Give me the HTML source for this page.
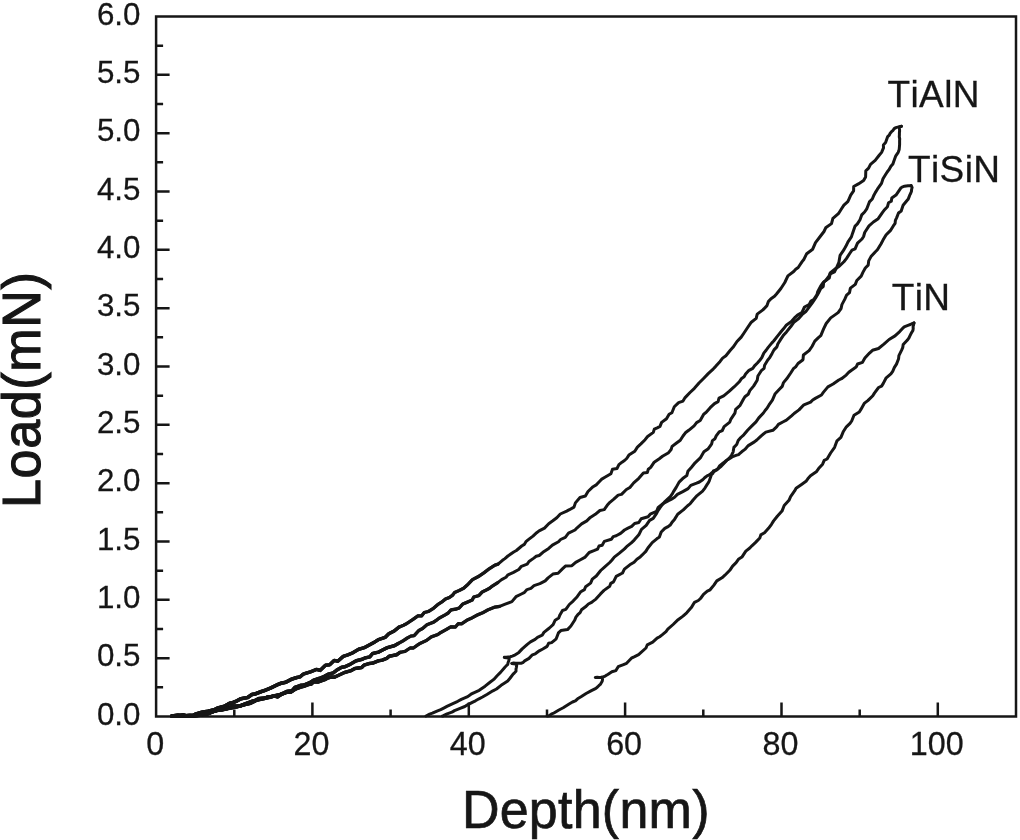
<!DOCTYPE html>
<html lang="en"><head><meta charset="utf-8"><title>Load-depth curves</title>
<style>
html,body{margin:0;padding:0;background:#fff;}
body{width:1020px;height:840px;overflow:hidden;font-family:"Liberation Sans",sans-serif;}
svg{display:block;}
</style></head><body>
<svg width="1020" height="840" viewBox="0 0 1020 840">
<rect width="1020" height="840" fill="#fff"/>
<g fill="none" stroke="#161616" stroke-width="2.5" stroke-linecap="butt">
<rect x="156.1" y="16.5" width="859.9" height="700.0"/>
<path d="M156.1 687.3 h7 M156.1 658.2 h13.5 M156.1 629.0 h7 M156.1 599.8 h13.5 M156.1 570.7 h7 M156.1 541.5 h13.5 M156.1 512.3 h7 M156.1 483.2 h13.5 M156.1 454.0 h7 M156.1 424.8 h13.5 M156.1 395.7 h7 M156.1 366.5 h13.5 M156.1 337.3 h7 M156.1 308.2 h13.5 M156.1 279.0 h7 M156.1 249.8 h13.5 M156.1 220.7 h7 M156.1 191.5 h13.5 M156.1 162.3 h7 M156.1 133.2 h13.5 M156.1 104.0 h7 M156.1 74.8 h13.5 M156.1 45.7 h7 M234.3 716.5 v-7 M312.4 716.5 v-14 M390.6 716.5 v-7 M468.8 716.5 v-14 M547.0 716.5 v-7 M625.1 716.5 v-14 M703.3 716.5 v-7 M781.5 716.5 v-14 M859.7 716.5 v-7 M937.8 716.5 v-14"/>
</g>
<g fill="none" stroke="#161616" stroke-width="3.0" stroke-linejoin="round" stroke-linecap="round">
<path d="M172.0 716.0 L177.0 716.0 L180.0 715.6 L183.0 715.9 L190.0 715.4 L193.0 715.5 L195.6 714.1 L201.2 712.4 L208.0 711.2 L214.1 709.8 L217.8 708.0 L224.4 706.3 L229.7 703.3 L232.6 702.7 L236.3 701.2 L240.7 698.8 L247.7 697.5 L251.9 694.5 L255.0 694.0 L261.5 691.5 L264.4 690.6 L270.9 687.9 L277.2 684.8 L280.9 683.3 L285.9 682.2 L291.3 679.3 L296.1 677.7 L300.1 676.8 L303.3 674.1 L306.2 673.2 L311.0 671.7 L316.5 669.4 L320.1 670.4 L325.5 665.2 L329.7 664.8 L334.2 660.4 L337.8 661.2 L343.2 656.4 L348.0 654.8 L352.5 652.9 L358.6 649.3 L364.4 647.6 L368.8 645.2 L374.1 642.4 L378.3 639.7 L385.1 637.4 L388.8 633.7 L394.2 631.0 L398.9 627.2 L403.6 625.2 L406.3 623.8 L409.7 621.6 L413.1 619.3 L418.0 615.8 L421.6 615.9 L424.3 612.5 L428.4 611.5 L433.5 608.3 L438.1 604.3 L442.4 601.6 L445.5 599.0 L449.4 597.5 L452.6 595.2 L454.5 592.6 L459.2 590.5 L463.7 588.2 L467.5 584.8 L472.5 579.6 L478.8 576.3 L484.5 572.4 L489.2 568.8 L495.0 565.1 L498.0 564.2 L502.5 560.3 L504.9 558.6 L507.9 556.0 L513.7 552.0 L516.4 550.5 L521.7 546.0 L524.3 544.4 L525.9 541.7 L529.0 539.2 L533.0 536.1 L536.7 532.7 L539.1 530.9 L544.5 528.1 L548.7 523.7 L552.8 520.8 L556.8 517.8 L560.3 514.0 L566.7 511.1 L569.4 509.7 L574.0 507.1 L575.4 502.9 L580.0 497.5 L585.4 496.0 L588.0 491.5 L593.1 486.7 L596.6 484.6 L601.4 479.4 L604.9 477.3 L610.9 473.7 L612.5 469.3 L617.0 468.5 L618.9 464.7 L622.0 462.2 L624.5 460.5 L626.7 458.5 L628.9 455.1 L634.8 451.2 L637.4 447.1 L640.9 443.9 L645.1 439.7 L647.6 436.5 L653.3 432.4 L654.3 429.2 L657.2 427.9 L660.0 426.4 L661.6 422.4 L666.5 418.7 L669.1 414.3 L671.9 412.7 L674.3 406.8 L678.6 402.6 L683.0 401.1 L685.1 397.6 L690.0 392.5 L694.4 388.3 L699.0 383.0 L703.3 378.7 L708.2 373.6 L713.4 368.8 L715.5 366.6 L720.1 361.4 L722.6 358.1 L725.9 355.7 L730.3 350.3 L733.0 347.3 L737.0 341.5 L741.2 337.1 L744.0 333.0 L747.3 328.0 L751.3 322.2 L756.2 318.4 L757.2 314.1 L762.9 309.9 L767.0 305.6 L768.4 301.6 L771.0 298.7 L774.5 296.3 L776.5 294.0 L780.9 288.5 L784.8 282.5 L787.9 275.9 L793.7 271.5 L795.7 269.3 L798.2 267.5 L802.1 261.6 L804.0 259.2 L806.7 253.7 L812.7 249.2 L815.5 242.6 L819.8 237.0 L824.0 231.5 L825.7 227.8 L831.5 223.6 L832.9 218.3 L838.4 213.7 L841.7 208.5 L843.9 205.1 L847.8 201.6 L849.1 198.8 L850.7 195.2 L853.6 190.9 L853.7 186.5 L858.4 183.9 L863.6 180.6 L865.6 177.0 L865.8 170.8 L868.6 168.2 L870.5 164.3 L875.2 160.4 L879.0 155.5 L881.6 152.4 L883.5 147.9 L883.4 144.9 L885.6 142.5 L887.7 136.6 L889.3 135.1 L890.2 133.2 L891.5 131.7 L893.1 130.3 L894.2 128.6 L895.9 127.6 L897.7 127.1 L899.5 126.7 L901.4 126.3"/>
<path d="M901.4 126.3 L899.5 127.0 L899.5 129.0 L899.6 131.0 L899.4 132.9 L899.4 134.9 L899.3 136.9 L899.7 138.9 L899.6 140.8 L899.6 142.7 L899.6 144.6 L899.2 149.5 L898.2 152.3 L895.8 155.8 L893.9 161.1 L892.9 163.9 L890.9 166.2 L889.0 169.7 L887.2 172.0 L885.6 174.5 L883.0 178.7 L881.5 183.4 L877.4 189.2 L875.3 192.6 L873.9 195.2 L872.3 199.0 L869.4 201.9 L866.9 208.6 L864.6 212.0 L861.7 214.9 L860.0 219.7 L857.4 223.9 L855.1 226.1 L852.7 232.9 L851.4 236.9 L848.0 241.8 L846.8 244.5 L844.0 249.6 L840.1 255.3 L838.9 262.3 L836.8 267.1 L834.5 271.9 L830.2 273.9 L829.2 278.1 L823.7 282.0 L823.2 286.5 L820.7 288.6 L818.5 293.0 L815.6 298.0 L812.3 302.9 L808.2 308.4 L805.8 311.6 L802.0 314.7 L798.7 318.5 L793.8 322.4 L790.8 326.5 L786.5 331.9 L783.2 335.6 L781.0 338.9 L777.8 344.0 L776.9 346.9 L774.0 349.9 L772.1 353.4 L769.5 357.9 L767.6 360.2 L764.6 365.2 L764.1 368.3 L761.6 370.3 L757.9 376.0 L757.2 380.2 L753.6 386.1 L749.8 390.6 L748.2 394.3 L744.9 396.7 L743.4 399.2 L740.1 405.3 L735.7 409.3 L734.9 413.2 L730.9 419.1 L729.8 422.1 L724.1 426.6 L722.3 430.5 L719.2 431.8 L716.2 435.9 L715.0 438.7 L712.4 440.6 L711.7 443.8 L708.3 448.7 L703.9 451.8 L700.3 457.9 L695.1 462.8 L691.3 467.5 L687.9 471.3 L686.8 475.5 L683.4 477.9 L679.1 482.1 L676.2 487.4 L673.5 491.6 L672.1 494.2 L670.3 496.6 L665.2 501.3 L662.0 505.0 L658.0 510.6 L656.6 513.4 L653.2 518.4 L649.6 520.4 L646.2 525.4 L641.5 529.3 L638.8 534.8 L634.2 540.1 L631.3 542.9 L626.6 546.7 L624.5 548.9 L619.1 553.4 L614.3 557.1 L611.8 560.2 L609.7 562.5 L604.5 567.1 L600.7 570.5 L596.3 576.0 L592.3 579.1 L590.6 583.1 L585.6 586.7 L584.4 589.6 L580.8 591.7 L577.2 596.7 L573.1 601.1 L569.3 604.5 L565.8 609.4 L562.5 610.5 L559.9 614.9 L558.7 618.0 L555.2 620.2 L553.1 624.7 L549.4 628.0 L543.9 632.4 L542.2 635.2 L537.5 637.3 L535.1 639.4 L530.5 641.9 L527.3 644.4 L522.2 648.9 L518.9 652.4 L514.1 655.4 L512.3 656.1 L510.3 656.7 L508.3 657.0 L506.3 657.3 L504.3 657.2 L504.3 657.5 L506.4 657.7 L508.5 657.9 L509.2 658.9 L508.8 660.8 L508.1 662.5 L507.7 664.4 L506.3 665.8 L504.9 667.2 L500.5 672.4 L497.1 675.8 L493.8 679.4 L490.0 682.3 L485.1 686.2 L479.2 690.3 L473.7 692.8 L471.0 694.2 L467.7 696.6 L461.3 699.4 L457.8 701.3 L452.3 703.8 L446.9 706.4 L444.2 707.8 L440.7 709.6 L437.0 711.1 L432.4 713.2 L429.6 714.2 L426.0 716.0"/>
<path d="M172.0 716.0 L178.0 715.2 L184.0 716.0 L189.0 715.7 L194.0 715.6 L201.0 714.8 L207.9 713.3 L214.6 711.0 L218.4 710.1 L221.4 710.0 L227.1 708.6 L232.8 706.2 L235.9 706.2 L240.1 706.0 L245.7 703.7 L252.2 701.3 L258.8 699.6 L264.7 698.4 L267.4 697.1 L271.5 696.5 L274.5 695.9 L280.4 694.5 L283.2 693.3 L286.9 691.5 L292.0 690.9 L295.0 687.5 L300.6 685.3 L303.8 685.1 L310.2 682.4 L313.6 680.2 L320.3 678.0 L323.1 677.0 L328.4 674.1 L333.3 672.9 L336.5 670.3 L341.7 667.3 L344.7 666.8 L350.2 664.3 L352.7 662.8 L356.2 660.8 L362.1 659.3 L364.8 658.0 L369.8 656.9 L372.6 653.5 L378.5 652.1 L383.0 649.8 L387.4 647.6 L394.3 645.7 L397.8 643.7 L402.3 641.3 L407.3 638.0 L410.8 636.1 L414.1 635.7 L418.9 630.4 L422.5 628.6 L427.0 624.7 L433.7 622.1 L437.0 619.8 L439.4 618.0 L445.6 614.6 L448.2 613.0 L451.0 609.9 L456.3 609.0 L459.2 608.0 L462.7 604.1 L466.5 602.5 L472.1 600.1 L473.8 597.0 L478.8 595.6 L482.3 591.9 L485.1 590.6 L489.5 588.3 L491.8 586.4 L497.7 582.7 L501.6 579.6 L506.0 577.2 L508.0 574.8 L513.5 572.3 L518.8 569.5 L521.4 566.3 L527.2 564.2 L529.0 561.5 L533.8 558.1 L536.2 556.3 L539.2 555.5 L542.9 552.3 L548.7 548.4 L552.4 545.1 L558.5 541.7 L560.6 539.5 L565.3 537.3 L568.5 533.2 L575.0 530.0 L577.1 527.8 L581.6 523.9 L586.8 520.9 L590.3 517.4 L595.3 514.3 L599.9 510.5 L604.2 509.6 L607.2 505.3 L609.9 502.3 L613.8 499.2 L618.2 495.1 L621.5 494.4 L626.4 489.5 L629.9 487.5 L633.7 482.9 L638.8 478.3 L643.4 473.0 L647.3 472.6 L648.3 469.3 L650.7 467.4 L654.2 462.2 L659.3 458.7 L662.5 456.3 L668.6 452.7 L671.1 449.5 L672.1 446.4 L676.2 443.3 L680.3 440.3 L683.0 436.0 L685.4 432.8 L688.7 430.3 L694.1 425.8 L696.6 422.6 L700.2 420.5 L703.7 414.2 L706.2 412.3 L710.2 407.7 L714.5 403.6 L718.1 401.6 L719.0 398.1 L723.7 395.8 L729.1 391.4 L734.3 386.7 L739.3 381.8 L741.6 378.4 L744.1 376.7 L745.6 374.0 L749.0 370.3 L752.8 368.3 L754.5 365.9 L757.4 363.0 L760.0 360.0 L761.8 357.7 L763.8 353.1 L766.3 350.0 L768.0 347.6 L771.7 343.1 L773.7 341.0 L777.3 336.4 L781.6 331.0 L783.5 328.8 L786.5 324.9 L791.4 321.6 L795.3 317.1 L797.5 315.1 L801.9 312.6 L804.5 307.0 L809.1 304.7 L811.0 301.0 L813.7 299.5 L817.0 294.6 L817.7 291.6 L820.5 286.4 L822.7 283.2 L825.7 280.5 L829.1 276.0 L830.2 272.9 L835.5 268.6 L839.0 266.5 L843.9 261.7 L846.4 258.6 L849.7 253.5 L852.0 250.2 L855.1 248.8 L857.5 243.1 L862.0 239.0 L863.6 236.5 L864.7 232.5 L866.8 229.2 L869.0 225.9 L873.4 222.0 L878.2 218.7 L882.2 212.9 L884.6 209.7 L887.4 206.8 L888.5 202.8 L891.3 201.3 L891.8 198.0 L896.0 195.1 L899.9 189.4 L901.1 187.7 L902.7 186.8 L904.5 186.2 L906.2 185.9 L908.0 185.7 L910.1 185.8 L911.1 185.6"/>
<path d="M911.1 185.6 L912.1 187.5 L911.6 189.5 L911.4 191.5 L910.6 193.5 L909.6 195.4 L908.9 197.4 L908.1 199.3 L906.8 200.8 L903.1 205.3 L901.2 211.0 L898.5 213.0 L896.7 217.6 L895.4 220.3 L895.1 223.4 L893.3 225.9 L890.8 230.1 L886.0 235.0 L883.0 240.1 L881.1 243.7 L877.4 249.8 L875.2 252.0 L871.0 256.6 L868.7 260.9 L868.2 265.2 L865.3 268.0 L862.9 272.4 L861.2 276.1 L856.8 280.5 L855.3 284.4 L850.4 288.1 L849.5 292.6 L846.6 295.1 L844.7 299.4 L841.9 304.6 L841.1 308.5 L838.1 312.6 L833.2 316.1 L830.7 317.9 L826.2 323.5 L823.6 328.9 L820.8 335.6 L818.4 337.6 L814.8 341.1 L812.0 346.5 L809.1 350.6 L803.4 355.0 L803.0 359.7 L798.0 363.5 L795.7 366.8 L793.4 368.7 L790.7 373.0 L786.7 378.8 L783.5 382.6 L782.2 386.4 L779.4 389.3 L775.2 393.7 L772.4 400.1 L769.0 404.9 L767.0 408.3 L765.1 410.5 L763.4 413.0 L758.8 417.9 L756.0 421.9 L752.4 425.4 L747.6 430.3 L743.8 434.8 L740.8 437.5 L738.2 440.5 L736.7 444.5 L733.9 447.4 L733.1 452.1 L732.2 453.8 L731.5 455.6 L730.2 457.1 L728.9 458.5 L727.4 459.8 L726.0 461.2 L721.2 466.3 L716.5 470.0 L713.3 471.0 L712.8 473.4 L711.4 474.8 L710.7 476.8 L710.0 478.8 L709.3 480.9 L708.4 482.7 L707.2 484.4 L705.1 487.8 L702.6 491.1 L697.1 495.6 L693.1 500.0 L690.0 503.9 L687.6 505.7 L683.3 509.9 L677.7 514.2 L674.5 519.4 L672.5 521.7 L670.2 525.1 L667.6 526.9 L664.8 528.4 L661.2 532.0 L659.4 537.1 L656.8 538.8 L652.2 542.6 L647.9 548.0 L645.8 551.4 L643.7 553.5 L640.2 556.9 L636.9 559.2 L634.1 562.2 L629.8 564.8 L624.4 569.2 L622.5 573.0 L616.2 576.4 L613.5 581.9 L610.8 583.4 L609.7 586.3 L604.0 590.4 L600.5 593.9 L595.9 599.1 L593.5 600.9 L591.1 602.7 L588.4 604.0 L585.5 606.8 L581.5 609.8 L580.1 612.6 L577.8 614.7 L575.9 617.1 L574.8 620.0 L570.9 626.0 L567.5 629.6 L560.9 630.6 L558.4 632.9 L556.2 638.8 L553.8 640.8 L551.6 642.6 L548.6 643.3 L547.1 646.4 L542.8 649.0 L539.3 650.8 L535.3 653.8 L532.4 654.8 L529.0 658.4 L524.7 660.9 L523.3 662.3 L521.5 663.2 L519.5 663.2 L517.5 663.3 L515.6 663.3 L513.6 663.1 L511.6 663.4 L513.7 663.7 L515.8 664.1 L516.7 665.3 L516.4 667.3 L516.0 669.2 L516.0 671.3 L514.5 672.8 L513.1 674.1 L510.2 678.0 L507.7 681.0 L503.5 683.7 L501.1 685.3 L496.5 689.0 L492.9 690.8 L486.9 694.5 L482.5 697.0 L479.0 698.8 L475.5 700.8 L472.8 702.1 L467.5 704.9 L464.8 706.5 L460.1 708.4 L454.5 710.6 L451.9 712.2 L447.1 713.8 L443.5 715.7 L442.5 716.0"/>
<path d="M172.0 716.0 L179.0 716.0 L183.0 714.9 L187.0 716.0 L193.1 716.0 L200.1 715.2 L203.0 713.9 L207.1 714.1 L212.7 711.7 L216.5 710.5 L222.0 708.8 L229.1 708.3 L233.0 707.5 L237.0 706.7 L243.8 704.8 L250.5 703.2 L254.1 701.4 L258.4 698.7 L265.4 698.1 L270.4 697.1 L274.2 695.9 L277.6 696.8 L281.2 694.4 L286.8 692.2 L290.9 692.0 L295.2 689.1 L300.8 687.1 L303.7 686.4 L308.3 684.6 L311.3 684.1 L313.7 681.7 L318.0 682.0 L324.7 679.7 L327.3 678.2 L331.2 677.0 L334.4 677.2 L338.1 675.5 L344.5 672.5 L351.2 670.6 L354.7 668.6 L361.7 667.5 L364.0 665.1 L369.7 663.4 L372.7 663.1 L378.3 660.9 L382.2 660.1 L386.8 658.3 L389.3 656.2 L396.5 654.8 L400.0 652.4 L405.0 651.4 L410.1 648.0 L413.4 648.0 L416.7 645.6 L420.0 643.4 L426.4 640.5 L431.3 636.9 L437.9 634.5 L440.4 632.7 L446.5 629.4 L450.8 626.8 L455.4 627.0 L458.2 623.7 L461.6 623.8 L467.4 619.9 L472.0 617.9 L477.3 615.0 L482.8 612.7 L488.1 609.8 L494.5 607.2 L499.6 606.4 L505.2 604.1 L511.9 601.6 L516.0 596.7 L521.4 594.0 L524.1 592.7 L527.0 589.6 L530.9 588.4 L534.0 585.7 L539.9 583.7 L545.2 580.9 L548.1 577.9 L552.9 574.1 L558.1 573.2 L562.4 568.9 L565.4 566.1 L571.9 565.7 L575.7 562.4 L580.0 560.0 L585.2 557.1 L589.2 552.5 L593.9 550.7 L597.6 549.1 L599.0 546.0 L602.2 545.3 L604.3 541.4 L611.3 539.3 L613.2 536.6 L616.2 535.8 L620.6 533.4 L624.5 530.0 L628.0 528.1 L631.7 526.4 L634.6 523.5 L638.8 522.5 L641.2 518.8 L648.1 516.7 L650.2 514.2 L656.6 511.3 L658.2 507.4 L662.9 503.8 L668.5 500.7 L671.1 499.4 L674.6 497.3 L677.4 494.4 L682.8 491.6 L688.1 488.6 L690.8 485.4 L696.6 483.2 L699.4 482.0 L702.7 479.7 L704.2 478.2 L705.6 477.0 L707.1 475.9 L708.8 475.0 L710.5 474.0 L712.0 472.7 L713.8 471.8 L715.4 470.5 L717.9 468.8 L719.5 465.9 L723.5 462.8 L725.8 460.8 L729.3 458.8 L731.0 457.7 L732.7 456.6 L734.7 455.8 L736.7 455.1 L738.8 454.6 L740.2 453.1 L741.7 451.8 L744.9 449.4 L748.3 445.6 L754.4 441.9 L756.8 440.0 L761.2 435.8 L765.8 432.1 L772.9 430.3 L776.6 426.9 L778.4 424.4 L782.8 422.0 L786.4 420.2 L791.8 415.6 L794.1 413.5 L799.0 409.9 L803.9 404.8 L810.6 402.1 L812.7 400.0 L815.3 398.4 L821.5 395.0 L823.3 392.4 L827.9 386.9 L833.1 384.0 L838.8 380.0 L841.5 378.7 L846.2 375.1 L848.8 372.3 L851.2 370.5 L856.1 367.1 L857.6 364.0 L862.5 362.3 L864.9 358.1 L869.5 353.1 L872.5 350.3 L878.5 348.5 L883.9 344.1 L889.1 339.5 L895.0 335.9 L899.7 331.6 L903.2 327.7 L904.8 326.6 L906.7 325.9 L908.6 325.2 L910.4 324.5 L912.1 323.6 L914.0 322.9"/>
<path d="M914.0 322.9 L913.6 324.8 L913.1 326.6 L913.2 328.5 L912.9 330.4 L911.8 332.3 L910.8 334.1 L909.9 335.9 L909.0 337.8 L907.2 340.3 L903.2 344.6 L902.7 347.7 L901.5 350.4 L898.9 355.7 L898.6 358.7 L896.5 364.1 L894.4 367.4 L892.7 371.3 L890.9 373.8 L886.2 377.8 L883.3 383.4 L881.6 386.1 L878.6 387.5 L874.4 393.1 L872.8 395.7 L867.8 400.6 L864.5 403.1 L860.9 409.4 L859.3 412.0 L854.0 415.3 L851.7 421.0 L850.0 423.4 L846.4 426.8 L843.2 431.8 L840.9 437.3 L837.0 440.8 L834.6 447.3 L830.6 453.0 L827.1 459.0 L824.2 460.4 L822.6 464.2 L818.6 468.6 L816.3 471.8 L810.5 475.8 L807.8 478.8 L806.0 481.3 L801.9 484.2 L796.1 488.2 L794.6 490.9 L790.6 496.6 L789.0 500.3 L784.2 505.5 L782.0 511.1 L777.3 516.2 L773.6 520.9 L771.5 524.3 L768.5 528.3 L764.5 532.8 L760.8 534.9 L759.8 538.0 L755.6 542.4 L751.9 545.8 L749.8 548.0 L745.8 551.1 L741.9 557.1 L738.4 559.3 L736.1 562.6 L732.6 566.1 L729.8 570.3 L724.9 575.2 L722.0 577.8 L716.8 580.9 L713.9 585.1 L710.1 589.8 L707.3 591.1 L703.5 594.4 L700.5 598.5 L698.3 600.5 L694.5 602.3 L691.3 607.6 L686.7 612.8 L683.0 616.1 L678.1 619.7 L673.1 624.5 L667.8 629.2 L666.0 631.7 L662.1 634.9 L659.7 636.7 L657.1 638.1 L652.7 642.1 L647.3 644.8 L646.0 648.0 L640.8 652.6 L638.6 654.6 L634.1 656.9 L631.4 658.2 L626.6 663.3 L622.8 664.9 L618.2 666.7 L615.9 670.6 L611.9 671.8 L607.8 674.5 L606.1 675.4 L604.5 676.4 L602.7 677.1 L600.9 677.3 L599.0 677.4 L597.2 677.2 L595.3 677.4 L597.2 677.2 L599.1 677.4 L600.9 677.6 L602.8 677.6 L602.5 679.4 L602.2 681.2 L601.3 682.7 L600.3 684.4 L598.8 685.7 L597.5 687.0 L595.9 688.3 L591.4 690.6 L586.1 693.5 L581.0 696.8 L577.6 698.8 L575.4 700.9 L572.5 702.0 L569.1 704.0 L563.2 707.7 L558.9 710.0 L553.9 713.0 L551.3 714.2 L549.0 715.7 L547.3 716.0"/>
</g>
<g fill="none" stroke="#161616" stroke-width="3.7" stroke-linejoin="round" stroke-linecap="round">
<path d="M172.0 716.0 L177.0 716.0 L180.0 715.6 L183.0 715.9 L190.0 715.4 L193.0 715.5 L195.6 714.1 L201.2 712.4 L208.0 711.2 L214.1 709.8 L217.8 708.0 L224.4 706.3 L229.7 703.3 L232.6 702.7 L236.3 701.2 L240.7 698.8 L247.7 697.5 L251.9 694.5 L255.0 694.0 L261.5 691.5 L264.4 690.6 L270.9 687.9 L277.2 684.8 L280.9 683.3 L285.9 682.2 L291.3 679.3 L296.1 677.7"/>
<path d="M172.0 716.0 L178.0 715.2 L184.0 716.0 L189.0 715.7 L194.0 715.6 L201.0 714.8 L207.9 713.3 L214.6 711.0 L218.4 710.1 L221.4 710.0 L227.1 708.6 L232.8 706.2 L235.9 706.2 L240.1 706.0 L245.7 703.7 L252.2 701.3 L258.8 699.6 L264.7 698.4 L267.4 697.1 L271.5 696.5 L274.5 695.9 L280.4 694.5 L283.2 693.3 L286.9 691.5 L292.0 690.9 L295.0 687.5"/>
<path d="M172.0 716.0 L179.0 716.0 L183.0 714.9 L187.0 716.0 L193.1 716.0 L200.1 715.2 L203.0 713.9 L207.1 714.1 L212.7 711.7 L216.5 710.5 L222.0 708.8 L229.1 708.3 L233.0 707.5 L237.0 706.7 L243.8 704.8 L250.5 703.2 L254.1 701.4 L258.4 698.7 L265.4 698.1 L270.4 697.1 L274.2 695.9 L277.6 696.8 L281.2 694.4 L286.8 692.2 L290.9 692.0 L295.2 689.1"/>
</g>
<g fill="none" stroke="#161616" stroke-width="3.5" stroke-linejoin="round" stroke-linecap="round">
<path d="M172.0 716.0 L177.0 716.0 L180.0 715.6 L183.0 715.9 L190.0 715.4 L193.0 715.5 L195.6 714.1 L201.2 712.4 L208.0 711.2 L214.1 709.8 L217.8 708.0 L224.4 706.3 L229.7 703.3 L232.6 702.7 L236.3 701.2 L240.7 698.8 L247.7 697.5 L251.9 694.5 L255.0 694.0 L261.5 691.5 L264.4 690.6 L270.9 687.9 L277.2 684.8 L280.9 683.3 L285.9 682.2 L291.3 679.3 L296.1 677.7 L300.1 676.8 L303.3 674.1 L306.2 673.2 L311.0 671.7 L316.5 669.4 L320.1 670.4 L325.5 665.2 L329.7 664.8 L334.2 660.4 L337.8 661.2 L343.2 656.4 L348.0 654.8 L352.5 652.9 L358.6 649.3 L364.4 647.6 L368.8 645.2 L374.1 642.4 L378.3 639.7 L385.1 637.4 L388.8 633.7 L394.2 631.0 L398.9 627.2"/>
<path d="M172.0 716.0 L178.0 715.2 L184.0 716.0 L189.0 715.7 L194.0 715.6 L201.0 714.8 L207.9 713.3 L214.6 711.0 L218.4 710.1 L221.4 710.0 L227.1 708.6 L232.8 706.2 L235.9 706.2 L240.1 706.0 L245.7 703.7 L252.2 701.3 L258.8 699.6 L264.7 698.4 L267.4 697.1 L271.5 696.5 L274.5 695.9 L280.4 694.5 L283.2 693.3 L286.9 691.5 L292.0 690.9 L295.0 687.5 L300.6 685.3 L303.8 685.1 L310.2 682.4 L313.6 680.2 L320.3 678.0 L323.1 677.0 L328.4 674.1 L333.3 672.9 L336.5 670.3 L341.7 667.3 L344.7 666.8 L350.2 664.3 L352.7 662.8 L356.2 660.8 L362.1 659.3 L364.8 658.0 L369.8 656.9 L372.6 653.5 L378.5 652.1 L383.0 649.8 L387.4 647.6 L394.3 645.7 L397.8 643.7"/>
<path d="M172.0 716.0 L179.0 716.0 L183.0 714.9 L187.0 716.0 L193.1 716.0 L200.1 715.2 L203.0 713.9 L207.1 714.1 L212.7 711.7 L216.5 710.5 L222.0 708.8 L229.1 708.3 L233.0 707.5 L237.0 706.7 L243.8 704.8 L250.5 703.2 L254.1 701.4 L258.4 698.7 L265.4 698.1 L270.4 697.1 L274.2 695.9 L277.6 696.8 L281.2 694.4 L286.8 692.2 L290.9 692.0 L295.2 689.1 L300.8 687.1 L303.7 686.4 L308.3 684.6 L311.3 684.1 L313.7 681.7 L318.0 682.0 L324.7 679.7 L327.3 678.2 L331.2 677.0 L334.4 677.2 L338.1 675.5 L344.5 672.5 L351.2 670.6 L354.7 668.6 L361.7 667.5 L364.0 665.1 L369.7 663.4 L372.7 663.1 L378.3 660.9 L382.2 660.1 L386.8 658.3 L389.3 656.2 L396.5 654.8 L400.0 652.4"/>
</g>
<g fill="none" stroke="#161616" stroke-width="3.3" stroke-linejoin="round" stroke-linecap="round">
<path d="M172.0 716.0 L177.0 716.0 L180.0 715.6 L183.0 715.9 L190.0 715.4 L193.0 715.5 L195.6 714.1 L201.2 712.4 L208.0 711.2 L214.1 709.8 L217.8 708.0 L224.4 706.3 L229.7 703.3 L232.6 702.7 L236.3 701.2 L240.7 698.8 L247.7 697.5 L251.9 694.5 L255.0 694.0 L261.5 691.5 L264.4 690.6 L270.9 687.9 L277.2 684.8 L280.9 683.3 L285.9 682.2 L291.3 679.3 L296.1 677.7 L300.1 676.8 L303.3 674.1 L306.2 673.2 L311.0 671.7 L316.5 669.4 L320.1 670.4 L325.5 665.2 L329.7 664.8 L334.2 660.4 L337.8 661.2 L343.2 656.4 L348.0 654.8 L352.5 652.9 L358.6 649.3 L364.4 647.6 L368.8 645.2 L374.1 642.4 L378.3 639.7 L385.1 637.4 L388.8 633.7 L394.2 631.0 L398.9 627.2 L403.6 625.2 L406.3 623.8 L409.7 621.6 L413.1 619.3 L418.0 615.8 L421.6 615.9 L424.3 612.5 L428.4 611.5 L433.5 608.3 L438.1 604.3 L442.4 601.6 L445.5 599.0 L449.4 597.5 L452.6 595.2 L454.5 592.6 L459.2 590.5 L463.7 588.2 L467.5 584.8 L472.5 579.6 L478.8 576.3 L484.5 572.4 L489.2 568.8 L495.0 565.1 L498.0 564.2"/>
<path d="M172.0 716.0 L178.0 715.2 L184.0 716.0 L189.0 715.7 L194.0 715.6 L201.0 714.8 L207.9 713.3 L214.6 711.0 L218.4 710.1 L221.4 710.0 L227.1 708.6 L232.8 706.2 L235.9 706.2 L240.1 706.0 L245.7 703.7 L252.2 701.3 L258.8 699.6 L264.7 698.4 L267.4 697.1 L271.5 696.5 L274.5 695.9 L280.4 694.5 L283.2 693.3 L286.9 691.5 L292.0 690.9 L295.0 687.5 L300.6 685.3 L303.8 685.1 L310.2 682.4 L313.6 680.2 L320.3 678.0 L323.1 677.0 L328.4 674.1 L333.3 672.9 L336.5 670.3 L341.7 667.3 L344.7 666.8 L350.2 664.3 L352.7 662.8 L356.2 660.8 L362.1 659.3 L364.8 658.0 L369.8 656.9 L372.6 653.5 L378.5 652.1 L383.0 649.8 L387.4 647.6 L394.3 645.7 L397.8 643.7 L402.3 641.3 L407.3 638.0 L410.8 636.1 L414.1 635.7 L418.9 630.4 L422.5 628.6 L427.0 624.7 L433.7 622.1 L437.0 619.8 L439.4 618.0 L445.6 614.6 L448.2 613.0 L451.0 609.9 L456.3 609.0 L459.2 608.0 L462.7 604.1 L466.5 602.5 L472.1 600.1 L473.8 597.0 L478.8 595.6 L482.3 591.9 L485.1 590.6 L489.5 588.3 L491.8 586.4 L497.7 582.7"/>
<path d="M172.0 716.0 L179.0 716.0 L183.0 714.9 L187.0 716.0 L193.1 716.0 L200.1 715.2 L203.0 713.9 L207.1 714.1 L212.7 711.7 L216.5 710.5 L222.0 708.8 L229.1 708.3 L233.0 707.5 L237.0 706.7 L243.8 704.8 L250.5 703.2 L254.1 701.4 L258.4 698.7 L265.4 698.1 L270.4 697.1 L274.2 695.9 L277.6 696.8 L281.2 694.4 L286.8 692.2 L290.9 692.0 L295.2 689.1 L300.8 687.1 L303.7 686.4 L308.3 684.6 L311.3 684.1 L313.7 681.7 L318.0 682.0 L324.7 679.7 L327.3 678.2 L331.2 677.0 L334.4 677.2 L338.1 675.5 L344.5 672.5 L351.2 670.6 L354.7 668.6 L361.7 667.5 L364.0 665.1 L369.7 663.4 L372.7 663.1 L378.3 660.9 L382.2 660.1 L386.8 658.3 L389.3 656.2 L396.5 654.8 L400.0 652.4 L405.0 651.4 L410.1 648.0 L413.4 648.0 L416.7 645.6 L420.0 643.4 L426.4 640.5 L431.3 636.9 L437.9 634.5 L440.4 632.7 L446.5 629.4 L450.8 626.8 L455.4 627.0 L458.2 623.7 L461.6 623.8 L467.4 619.9 L472.0 617.9 L477.3 615.0 L482.8 612.7 L488.1 609.8 L494.5 607.2 L499.6 606.4"/>
</g>
<g font-family="'Liberation Sans', sans-serif" fill="#161616" stroke="#161616" stroke-width="0.28">
<text transform="translate(140.4 724.5) scale(1 1.030)" font-size="31.3" text-anchor="end">0.0</text>
<text transform="translate(140.4 666.2) scale(1 1.030)" font-size="31.3" text-anchor="end">0.5</text>
<text transform="translate(140.4 607.8) scale(1 1.030)" font-size="31.3" text-anchor="end">1.0</text>
<text transform="translate(140.4 549.5) scale(1 1.030)" font-size="31.3" text-anchor="end">1.5</text>
<text transform="translate(140.4 491.2) scale(1 1.030)" font-size="31.3" text-anchor="end">2.0</text>
<text transform="translate(140.4 432.8) scale(1 1.030)" font-size="31.3" text-anchor="end">2.5</text>
<text transform="translate(140.4 374.5) scale(1 1.030)" font-size="31.3" text-anchor="end">3.0</text>
<text transform="translate(140.4 316.2) scale(1 1.030)" font-size="31.3" text-anchor="end">3.5</text>
<text transform="translate(140.4 257.8) scale(1 1.030)" font-size="31.3" text-anchor="end">4.0</text>
<text transform="translate(140.4 199.5) scale(1 1.030)" font-size="31.3" text-anchor="end">4.5</text>
<text transform="translate(140.4 141.2) scale(1 1.030)" font-size="31.3" text-anchor="end">5.0</text>
<text transform="translate(140.4 82.8) scale(1 1.030)" font-size="31.3" text-anchor="end">5.5</text>
<text transform="translate(140.4 24.5) scale(1 1.030)" font-size="31.3" text-anchor="end">6.0</text>
<text transform="translate(155.1 754.9) scale(1 1.020)" font-size="32.3" text-anchor="middle">0</text>
<text transform="translate(311.4 754.9) scale(1 1.020)" font-size="32.3" text-anchor="middle">20</text>
<text transform="translate(467.8 754.9) scale(1 1.020)" font-size="32.3" text-anchor="middle">40</text>
<text transform="translate(624.1 754.9) scale(1 1.020)" font-size="32.3" text-anchor="middle">60</text>
<text transform="translate(780.5 754.9) scale(1 1.020)" font-size="32.3" text-anchor="middle">80</text>
<text transform="translate(936.8 754.9) scale(1 1.020)" font-size="32.3" text-anchor="middle">100</text>
<text transform="translate(887.5 106.9) scale(1 1.020)" font-size="37" text-anchor="start" style="font-kerning:none;letter-spacing:0.4px">TiAlN</text>
<text transform="translate(908.0 182.2) scale(1 1.020)" font-size="37" text-anchor="start" style="font-kerning:none;letter-spacing:0.4px">TiSiN</text>
<text transform="translate(891.7 310.4) scale(1 1.020)" font-size="37" text-anchor="start" style="font-kerning:none;letter-spacing:0.4px">TiN</text>
<text transform="translate(585.8 827.7) scale(1 1.015)" font-size="52" text-anchor="middle" style="letter-spacing:0.25px;stroke-width:0.7px">Depth(nm)</text>
<text transform="translate(40.3 389.8) rotate(-90) scale(1 1.015)" font-size="52" text-anchor="middle" style="letter-spacing:0.65px;stroke-width:1.1px">Load(mN)</text>
</g>
</svg>
</body></html>
